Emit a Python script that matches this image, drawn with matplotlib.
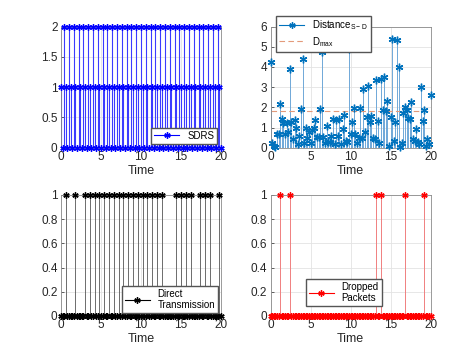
import numpy as np
import matplotlib.pyplot as plt
from matplotlib.lines import Line2D
from matplotlib.ticker import FormatStrFormatter

plt.rcParams['font.family'] = ['Liberation Sans', 'DejaVu Sans']
plt.rcParams['mathtext.default'] = 'regular'

time = np.linspace(0, 20, 101)

sdrs = [1, 0, 2, 1, 0, 2, 1, 0, 2, 1, 0, 2, 1, 0, 2, 1, 0, 2, 1, 0,
        2, 1, 0, 2, 1, 0, 2, 1, 0, 2, 1, 0, 2, 1, 0, 2, 1, 0, 2, 1,
        0, 2, 1, 0, 2, 1, 0, 2, 1, 0, 2, 1, 0, 2, 1, 0, 2, 1, 0, 2,
        1, 0, 2, 1, 0, 2, 1, 0, 2, 1, 0, 2, 1, 0, 2, 1, 0, 2, 1, 0,
        2, 1, 0, 2, 1, 0, 2, 1, 0, 2, 1, 0, 2, 1, 0, 2, 1, 0, 2, 1,
        0]

distance = [4.25, 0.25, 0.1, 0.05, 0.7, 0.7, 2.15, 1.4, 1.2, 0.7,
            1.2, 0.8, 3.9, 1.25, 0.45, 1.35, 1.0, 0.2, 0.6, 1.9,
            4.4, 0.25, 1.0, 0.5, 0.8, 0.25, 0.9, 1.0, 1.35, 0.55,
            0.55, 1.9, 4.75, 0.55, 0.25, 1.05, 0.3, 0.3, 0.6, 1.4,
            0.2, 1.35, 0.6, 1.4, 0.2, 0.95, 1.6, 0.35, 0.3, 4.9,
            0.7, 1.25, 1.95, 0.7, 0.25, 0.5, 1.95, 0.5, 2.9, 0.8,
            1.5, 3.05, 1.25, 1.55, 0.5, 0.45, 3.35, 1.3, 0.25, 3.4,
            1.85, 3.5, 1.8, 2.3, 0.1, 1.5, 5.4, 0.35, 1.25, 5.35,
            4.0, 0.05, 0.25, 1.7, 2.0, 1.85, 1.45, 1.4, 2.25, 0.45,
            0.35, 0.95, 0.3, 0.2, 3.0, 1.3, 1.85, 0.1, 0.45, 0.2,
            2.6]
d_max = 1.8

direct_times = [0.6, 1.8, 3.0, 3.6, 4.2, 4.8, 5.4, 6.0, 6.6, 7.2, 7.8, 8.4,
                9.0, 9.6, 10.2, 10.8, 11.4, 12.0, 12.6, 14.4, 15.0, 15.6,
                16.2, 17.4, 18.0, 18.6, 19.8]
dropped_times = [1.2, 2.4, 13.2, 13.8, 16.8, 19.2]

direct = np.zeros(len(time))
direct[np.rint(np.array(direct_times) / 0.2).astype(int)] = 1
dropped = np.zeros(len(time))
dropped[np.rint(np.array(dropped_times) / 0.2).astype(int)] = 1

STAR = (6, 2, 0)


def draw_stem(ax, y, color, stem_color, lw=0.7, ms=4.5):
    ml, sl, bl = ax.stem(time, y, basefmt=' ')
    plt.setp(sl, color=stem_color, linewidth=lw)
    plt.setp(ml, color=color, marker=STAR, markersize=ms,
             markeredgewidth=1.0, clip_on=False, zorder=4)


def style(ax, ylim, yticks):
    ax.set_xlim(0, 20)
    ax.set_ylim(*ylim)
    ax.set_xticks([0, 5, 10, 15, 20])
    ax.set_yticks(yticks)
    ax.yaxis.set_major_formatter(FormatStrFormatter('%g'))
    ax.grid(True, color='#e3e3e3', linewidth=0.6)
    ax.set_axisbelow(True)
    ax.tick_params(direction='in', length=2.5, width=0.5, labelsize=8.5,
                   colors='#262626', pad=2.5)
    for s in ax.spines.values():
        s.set_color('#8a8a8a')
        s.set_linewidth(0.6)
    ax.set_xlabel('Time', fontsize=9, labelpad=1, color='#262626')


def handle(color, label):
    return Line2D([], [], color=color, linewidth=0.8, marker=STAR,
                  markersize=4.5, markeredgewidth=1.0, label=label)


fig = plt.figure(figsize=(4.74, 3.55), dpi=100)
w, h = 0.3376, 0.341
ax1 = fig.add_axes([0.1287, 0.584, w, h])
ax2 = fig.add_axes([0.5707, 0.584, w, h])
ax3 = fig.add_axes([0.1287, 0.110, w, h])
ax4 = fig.add_axes([0.5707, 0.110, w, h])

legend_kw = dict(fontsize=7, frameon=True, fancybox=False,
                 edgecolor='#555555', handlelength=2.6, borderpad=0.3,
                 framealpha=1)

# SDRS
draw_stem(ax1, sdrs, '#0000ff', '#3b3bff', lw=0.8)
style(ax1, (0, 2), [0, 0.5, 1, 1.5, 2])
ax1.legend(handles=[handle('#0000ff', 'SDRS')], loc='lower right',
           borderaxespad=0.4, **legend_kw)

# distance
draw_stem(ax2, distance, '#0072BD', '#6fa8d8', lw=0.7, ms=5.5)
ax2.axhline(d_max, color='#e39a7a', linestyle=(0, (5, 3)), linewidth=0.8)
style(ax2, (0, 6), [0, 1, 2, 3, 4, 5, 6])
h_dist = handle('#0072BD', r'Distance$_{S-D}$')
h_dmax = Line2D([], [], color='#e39a7a', linestyle=(0, (5, 3)),
                linewidth=0.8, label=r'D$_{max}$')
ax2.legend(handles=[h_dist, h_dmax], loc='upper left',
           bbox_to_anchor=(0.005, 1.13), labelspacing=0.25, **legend_kw)

# direct transmission
draw_stem(ax3, direct, '#000000', '#555555', lw=0.6)
style(ax3, (0, 1), [0, 0.2, 0.4, 0.6, 0.8, 1])
ax3.legend(handles=[handle('#000000', 'Direct\nTransmission')],
           loc='lower right', borderaxespad=0.3, **legend_kw)

# dropped packets
draw_stem(ax4, dropped, '#ff0000', '#f08080', lw=0.7)
style(ax4, (0, 1), [0, 0.2, 0.4, 0.6, 0.8, 1])
ax4.legend(handles=[handle('#ff0000', 'Dropped\nPackets')],
           loc='lower left', bbox_to_anchor=(0.19, 0.04), **legend_kw)

fig.savefig('out.png', dpi=100)
